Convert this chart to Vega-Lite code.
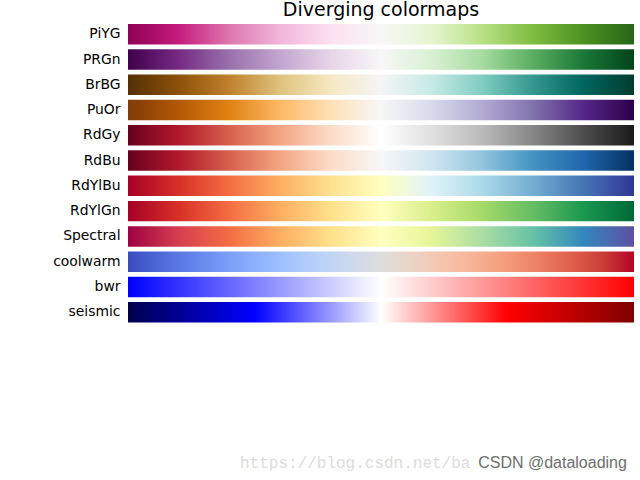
{
  "$schema": "https://vega.github.io/schema/vega-lite/v6.json",
  "width": 506,
  "height": 456,
  "autosize": "none",
  "padding": {"left": 128, "top": 21.6, "right": 6, "bottom": 2.4},
  "background": "white",
  "config": {"view": {"stroke": null}, "font": "DejaVu Sans"},
  "title": {
    "text": "Diverging colormaps",
    "font": "DejaVu Sans",
    "fontSize": 19,
    "fontWeight": "normal",
    "color": "black",
    "anchor": "middle",
    "frame": "group",
    "baseline": "alphabetic",
    "offset": 4.6,
    "dy": 18
  },
  "data": {
    "values": [
      {"cmap": "PiYG"},
      {"cmap": "PRGn"},
      {"cmap": "BrBG"},
      {"cmap": "PuOr"},
      {"cmap": "RdGy"},
      {"cmap": "RdBu"},
      {"cmap": "RdYlBu"},
      {"cmap": "RdYlGn"},
      {"cmap": "Spectral"},
      {"cmap": "coolwarm"},
      {"cmap": "bwr"},
      {"cmap": "seismic"}
    ]
  },
  "layer": [
    {
      "encoding": {
        "y": {
          "field": "cmap",
          "type": "nominal",
          "sort": null,
          "scale": {
            "domain": ["PiYG", "PRGn", "BrBG", "PuOr", "RdGy", "RdBu", "RdYlBu", "RdYlGn", "Spectral", "coolwarm", "bwr", "seismic"],
            "range": [0, 303.24],
            "paddingInner": 0.189,
            "paddingOuter": 0.0945
          },
          "axis": {
            "title": null,
            "domain": false,
            "ticks": false,
            "labelPadding": 8,
            "labelFont": "DejaVu Sans",
            "labelFontSize": 13.9,
            "labelColor": "black"
          }
        },
        "x": {"datum": 0, "type": "quantitative", "scale": {"domain": [0, 1]}, "axis": null},
        "x2": {"datum": 1}
      },
      "layer": [
        {
          "transform": [{"filter": "datum.cmap === 'PiYG'"}],
          "mark": {"type": "rect", "fill": {"gradient": "linear", "x1": 0, "y1": 0, "x2": 1, "y2": 0, "stops": [
            {"offset": 0, "color": "#8e0152"}, {"offset": 0.1, "color": "#c51b7d"}, {"offset": 0.2, "color": "#de77ae"},
            {"offset": 0.3, "color": "#f1b6da"}, {"offset": 0.4, "color": "#fde0ef"}, {"offset": 0.5, "color": "#f7f7f7"},
            {"offset": 0.6, "color": "#e6f5d0"}, {"offset": 0.7, "color": "#b8e186"}, {"offset": 0.8, "color": "#7fbc41"},
            {"offset": 0.9, "color": "#4d9221"}, {"offset": 1, "color": "#276419"}]}}
        },
        {
          "transform": [{"filter": "datum.cmap === 'PRGn'"}],
          "mark": {"type": "rect", "fill": {"gradient": "linear", "x1": 0, "y1": 0, "x2": 1, "y2": 0, "stops": [
            {"offset": 0, "color": "#40004b"}, {"offset": 0.1, "color": "#762a83"}, {"offset": 0.2, "color": "#9970ab"},
            {"offset": 0.3, "color": "#c2a5cf"}, {"offset": 0.4, "color": "#e7d4e8"}, {"offset": 0.5, "color": "#f7f7f7"},
            {"offset": 0.6, "color": "#d9f0d3"}, {"offset": 0.7, "color": "#a6dba0"}, {"offset": 0.8, "color": "#5aae61"},
            {"offset": 0.9, "color": "#1b7837"}, {"offset": 1, "color": "#00441b"}]}}
        },
        {
          "transform": [{"filter": "datum.cmap === 'BrBG'"}],
          "mark": {"type": "rect", "fill": {"gradient": "linear", "x1": 0, "y1": 0, "x2": 1, "y2": 0, "stops": [
            {"offset": 0, "color": "#543005"}, {"offset": 0.1, "color": "#8c510a"}, {"offset": 0.2, "color": "#bf812d"},
            {"offset": 0.3, "color": "#dfc27d"}, {"offset": 0.4, "color": "#f6e8c3"}, {"offset": 0.5, "color": "#f5f5f5"},
            {"offset": 0.6, "color": "#c7eae5"}, {"offset": 0.7, "color": "#80cdc1"}, {"offset": 0.8, "color": "#35978f"},
            {"offset": 0.9, "color": "#01665e"}, {"offset": 1, "color": "#003c30"}]}}
        },
        {
          "transform": [{"filter": "datum.cmap === 'PuOr'"}],
          "mark": {"type": "rect", "fill": {"gradient": "linear", "x1": 0, "y1": 0, "x2": 1, "y2": 0, "stops": [
            {"offset": 0, "color": "#7f3b08"}, {"offset": 0.1, "color": "#b35806"}, {"offset": 0.2, "color": "#e08214"},
            {"offset": 0.3, "color": "#fdb863"}, {"offset": 0.4, "color": "#fee0b6"}, {"offset": 0.5, "color": "#f7f7f7"},
            {"offset": 0.6, "color": "#d8daeb"}, {"offset": 0.7, "color": "#b2abd2"}, {"offset": 0.8, "color": "#8073ac"},
            {"offset": 0.9, "color": "#542788"}, {"offset": 1, "color": "#2d004b"}]}}
        },
        {
          "transform": [{"filter": "datum.cmap === 'RdGy'"}],
          "mark": {"type": "rect", "fill": {"gradient": "linear", "x1": 0, "y1": 0, "x2": 1, "y2": 0, "stops": [
            {"offset": 0, "color": "#67001f"}, {"offset": 0.1, "color": "#b2182b"}, {"offset": 0.2, "color": "#d6604d"},
            {"offset": 0.3, "color": "#f4a582"}, {"offset": 0.4, "color": "#fddbc7"}, {"offset": 0.5, "color": "#ffffff"},
            {"offset": 0.6, "color": "#e0e0e0"}, {"offset": 0.7, "color": "#bababa"}, {"offset": 0.8, "color": "#878787"},
            {"offset": 0.9, "color": "#4d4d4d"}, {"offset": 1, "color": "#1a1a1a"}]}}
        },
        {
          "transform": [{"filter": "datum.cmap === 'RdBu'"}],
          "mark": {"type": "rect", "fill": {"gradient": "linear", "x1": 0, "y1": 0, "x2": 1, "y2": 0, "stops": [
            {"offset": 0, "color": "#67001f"}, {"offset": 0.1, "color": "#b2182b"}, {"offset": 0.2, "color": "#d6604d"},
            {"offset": 0.3, "color": "#f4a582"}, {"offset": 0.4, "color": "#fddbc7"}, {"offset": 0.5, "color": "#f7f7f7"},
            {"offset": 0.6, "color": "#d1e5f0"}, {"offset": 0.7, "color": "#92c5de"}, {"offset": 0.8, "color": "#4393c3"},
            {"offset": 0.9, "color": "#2166ac"}, {"offset": 1, "color": "#053061"}]}}
        },
        {
          "transform": [{"filter": "datum.cmap === 'RdYlBu'"}],
          "mark": {"type": "rect", "fill": {"gradient": "linear", "x1": 0, "y1": 0, "x2": 1, "y2": 0, "stops": [
            {"offset": 0, "color": "#a50026"}, {"offset": 0.1, "color": "#d73027"}, {"offset": 0.2, "color": "#f46d43"},
            {"offset": 0.3, "color": "#fdae61"}, {"offset": 0.4, "color": "#fee090"}, {"offset": 0.5, "color": "#ffffbf"},
            {"offset": 0.6, "color": "#e0f3f8"}, {"offset": 0.7, "color": "#abd9e9"}, {"offset": 0.8, "color": "#74add1"},
            {"offset": 0.9, "color": "#4575b4"}, {"offset": 1, "color": "#313695"}]}}
        },
        {
          "transform": [{"filter": "datum.cmap === 'RdYlGn'"}],
          "mark": {"type": "rect", "fill": {"gradient": "linear", "x1": 0, "y1": 0, "x2": 1, "y2": 0, "stops": [
            {"offset": 0, "color": "#a50026"}, {"offset": 0.1, "color": "#d73027"}, {"offset": 0.2, "color": "#f46d43"},
            {"offset": 0.3, "color": "#fdae61"}, {"offset": 0.4, "color": "#fee08b"}, {"offset": 0.5, "color": "#ffffbf"},
            {"offset": 0.6, "color": "#d9ef8b"}, {"offset": 0.7, "color": "#a6d96a"}, {"offset": 0.8, "color": "#66bd63"},
            {"offset": 0.9, "color": "#1a9850"}, {"offset": 1, "color": "#006837"}]}}
        },
        {
          "transform": [{"filter": "datum.cmap === 'Spectral'"}],
          "mark": {"type": "rect", "fill": {"gradient": "linear", "x1": 0, "y1": 0, "x2": 1, "y2": 0, "stops": [
            {"offset": 0, "color": "#9e0142"}, {"offset": 0.1, "color": "#d53e4f"}, {"offset": 0.2, "color": "#f46d43"},
            {"offset": 0.3, "color": "#fdae61"}, {"offset": 0.4, "color": "#fee08b"}, {"offset": 0.5, "color": "#ffffbf"},
            {"offset": 0.6, "color": "#e6f598"}, {"offset": 0.7, "color": "#abdda4"}, {"offset": 0.8, "color": "#66c2a5"},
            {"offset": 0.9, "color": "#3288bd"}, {"offset": 1, "color": "#5e4fa2"}]}}
        },
        {
          "transform": [{"filter": "datum.cmap === 'coolwarm'"}],
          "mark": {"type": "rect", "fill": {"gradient": "linear", "x1": 0, "y1": 0, "x2": 1, "y2": 0, "stops": [
            {"offset": 0, "color": "#3b4cc0"}, {"offset": 0.0625, "color": "#4d68d7"}, {"offset": 0.125, "color": "#6282ea"},
            {"offset": 0.1875, "color": "#779af7"}, {"offset": 0.25, "color": "#8db0fe"}, {"offset": 0.3125, "color": "#a3c2ff"},
            {"offset": 0.375, "color": "#b8d0f9"}, {"offset": 0.4375, "color": "#ccd9ee"}, {"offset": 0.5, "color": "#dddddd"},
            {"offset": 0.5625, "color": "#ecd3c5"}, {"offset": 0.625, "color": "#f5c4ad"}, {"offset": 0.6875, "color": "#f7b194"},
            {"offset": 0.75, "color": "#f49a7b"}, {"offset": 0.8125, "color": "#ec7f63"}, {"offset": 0.875, "color": "#de604d"},
            {"offset": 0.9375, "color": "#cb3e38"}, {"offset": 1, "color": "#b40426"}]}}
        },
        {
          "transform": [{"filter": "datum.cmap === 'bwr'"}],
          "mark": {"type": "rect", "fill": {"gradient": "linear", "x1": 0, "y1": 0, "x2": 1, "y2": 0, "stops": [
            {"offset": 0, "color": "#0000ff"}, {"offset": 0.5, "color": "#ffffff"}, {"offset": 1, "color": "#ff0000"}]}}
        },
        {
          "transform": [{"filter": "datum.cmap === 'seismic'"}],
          "mark": {"type": "rect", "fill": {"gradient": "linear", "x1": 0, "y1": 0, "x2": 1, "y2": 0, "stops": [
            {"offset": 0, "color": "#00004c"}, {"offset": 0.25, "color": "#0000ff"}, {"offset": 0.5, "color": "#ffffff"},
            {"offset": 0.75, "color": "#ff0000"}, {"offset": 1, "color": "#7f0000"}]}}
        }
      ]
    },
    {
      "layer": [
        {
          "data": {"values": [{"note": "https://blog.csdn.net/ba"}]},
          "mark": {"type": "text", "align": "left", "baseline": "alphabetic", "font": "Liberation Mono", "fontSize": 16, "fill": "#dcdcdc"},
          "encoding": {
            "x": {"datum": 0.2213, "type": "quantitative"},
            "y": {"datum": 0.021, "type": "quantitative", "scale": {"domain": [0, 1]}, "axis": null},
            "text": {"field": "note", "type": "nominal"}
          }
        },
        {
          "data": {"values": [{"note": "CSDN @dataloading"}]},
          "mark": {"type": "text", "align": "right", "baseline": "alphabetic", "font": "Liberation Sans", "fontSize": 16, "fill": "#6e6e6e"},
          "encoding": {
            "x": {"datum": 0.986, "type": "quantitative"},
            "y": {"datum": 0.021, "type": "quantitative", "scale": {"domain": [0, 1]}, "axis": null},
            "text": {"field": "note", "type": "nominal"}
          }
        }
      ]
    }
  ],
  "resolve": {"scale": {"y": "independent"}}
}
